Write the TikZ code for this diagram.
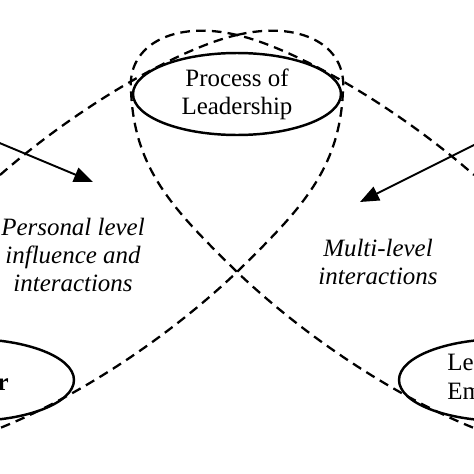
\documentclass[tikz,border=0pt]{standalone}
\usepackage{fontspec}
\setmainfont{Liberation Serif}
\usetikzlibrary{shapes.geometric,arrows.meta}

\begin{document}
\begin{tikzpicture}[x=0.02cm,y=-0.02cm,
        oval/.style={ellipse,draw,line width=1.4pt,minimum width=4.16cm,minimum height=1.64cm,inner sep=0pt},
        trail/.style={dash pattern=on 5.5pt off 3.5pt,line width=1.3pt},
        lbl/.style={align=center,font=\fontsize{14.2}{15.9}\selectfont\itshape},
        txt/.style={inner sep=0pt,font=\fontsize{14.2}{15.9}\selectfont}]
                \useasboundingbox (0,0) rectangle (474,474);

                \node[oval,align=center,txt] (POL) at (237,94){Process of\\Leadership};
                \node[oval] (LDR) at (-30,380){};
                \node[oval] (LEM) at (503,380){};
                \node[txt,anchor=base east] (LDRtxt) at (9,390){\textbf{r}};
                \node[txt,anchor=base west] (LEMtxt1) at (447,370){Le};
                \node[txt,anchor=base west] (LEMtxt2) at (447,399){Em};

                \node[lbl] (PLI) at (73,255){Personal level\\influence and\\interactions};
                \node[lbl] (MLI) at (378,262){Multi-level\\interactions};

                \coordinate (TOP) at (237,35);
                \coordinate (PSRC) at (-10,139);
                \coordinate (PTIP) at (93,182);
                \coordinate (MSRC) at (484,140);
                \coordinate (MTIP) at (360,202);

                \draw[-{Triangle[length=0.38cm,width=0.3cm]},line width=1.1pt] (PSRC) -- (PTIP);
                \draw[-{Triangle[length=0.38cm,width=0.3cm]},line width=1.1pt] (MSRC) -- (MTIP);

                \draw[trail] (0,175) .. controls (80,105) and (180,48) .. (TOP) .. controls (294,48) and (394,105) .. (474,175);
                \draw[trail] (TOP) .. controls (300,20) and (347,45) .. (343,90) .. controls (340,170) and (300,210) .. (237,272) .. controls (160,345) and (70,400) .. (0,428);
                \draw[trail] (TOP) .. controls (174,20) and (127,45) .. (131,90) .. controls (134,170) and (174,210) .. (237,272) .. controls (314,345) and (404,400) .. (474,428);
        \end{tikzpicture}
\end{document}
